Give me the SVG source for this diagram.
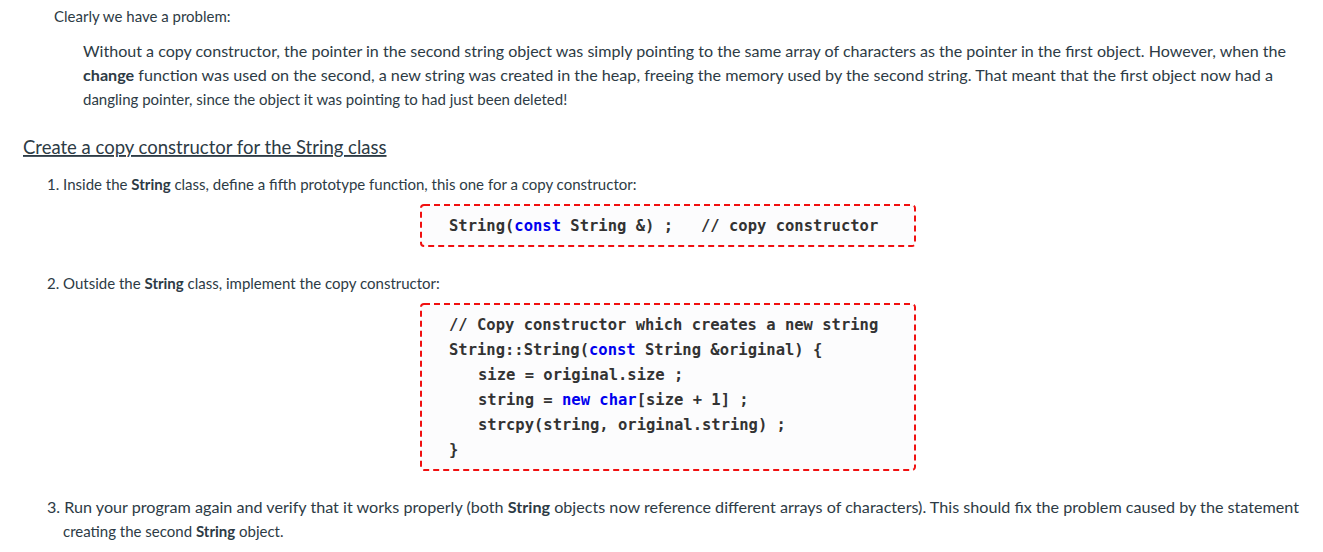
<svg xmlns="http://www.w3.org/2000/svg" width="1323" height="552" viewBox="0 0 1323 552">
<style>
.t{font-family:Lato,"Open Sans",sans-serif;font-size:15px;fill:#2d3b45}
.b{font-weight:bold}
.c{font-family:"DejaVu Sans Mono","Liberation Mono",monospace;font-size:15.5px;font-weight:bold;fill:#333;white-space:pre}
.k{fill:#0000ee}
.box{fill:#fcfcfd;stroke:#f01010;stroke-width:2;stroke-dasharray:6 4}
</style>
<rect width="1323" height="552" fill="#fff"/>
<text class="t" x="54" y="22">Clearly we have a problem:</text>
<text class="t" x="83" y="57" textLength="1203" lengthAdjust="spacingAndGlyphs">Without a copy constructor, the pointer in the second string object was simply pointing to the same array of characters as the pointer in the first object.  However, when the</text>
<text class="t" x="83" y="81" textLength="1190" lengthAdjust="spacingAndGlyphs"><tspan class="b">change</tspan>  function was used on the second, a new string was created in the heap, freeing the memory used by the second string.  That meant that the first object now had a</text>
<text class="t" x="83" y="105">dangling pointer, since the object it was pointing to had just been deleted!</text>
<text class="t" x="23" y="154" style="font-size:18.5px" text-decoration="underline">Create a copy constructor for the String class</text>
<text class="t" x="47" y="190">1. Inside the  <tspan class="b">String</tspan>  class, define a fifth prototype function, this one for a copy constructor:</text>
<rect class="box" x="421" y="205" width="494" height="41" rx="3"/>
<text class="c" x="449" y="231">String(<tspan class="k">const</tspan> String &amp;) ;   // copy constructor</text>
<text class="t" x="47" y="289">2. Outside the  <tspan class="b">String</tspan>  class, implement the copy constructor:</text>
<rect class="box" x="421" y="304" width="494" height="166" rx="3"/>
<text class="c" x="449" y="330">// Copy constructor which creates a new string</text>
<text class="c" x="449" y="355">String::String(<tspan class="k">const</tspan> String &amp;original) {</text>
<text class="c" x="478" y="380">size = original.size ;</text>
<text class="c" x="478" y="405">string = <tspan class="k">new</tspan> <tspan class="k">char</tspan>[size + 1] ;</text>
<text class="c" x="478" y="430">strcpy(string, original.string) ;</text>
<text class="c" x="449" y="455">}</text>
<text class="t" x="47" y="513" textLength="1252" lengthAdjust="spacingAndGlyphs">3. Run your program again and verify that it works properly (both  <tspan class="b">String</tspan>  objects now reference different arrays of characters).  This should fix the problem caused by the statement</text>
<text class="t" x="63" y="537">creating the second  <tspan class="b">String</tspan>  object.</text>
</svg>
